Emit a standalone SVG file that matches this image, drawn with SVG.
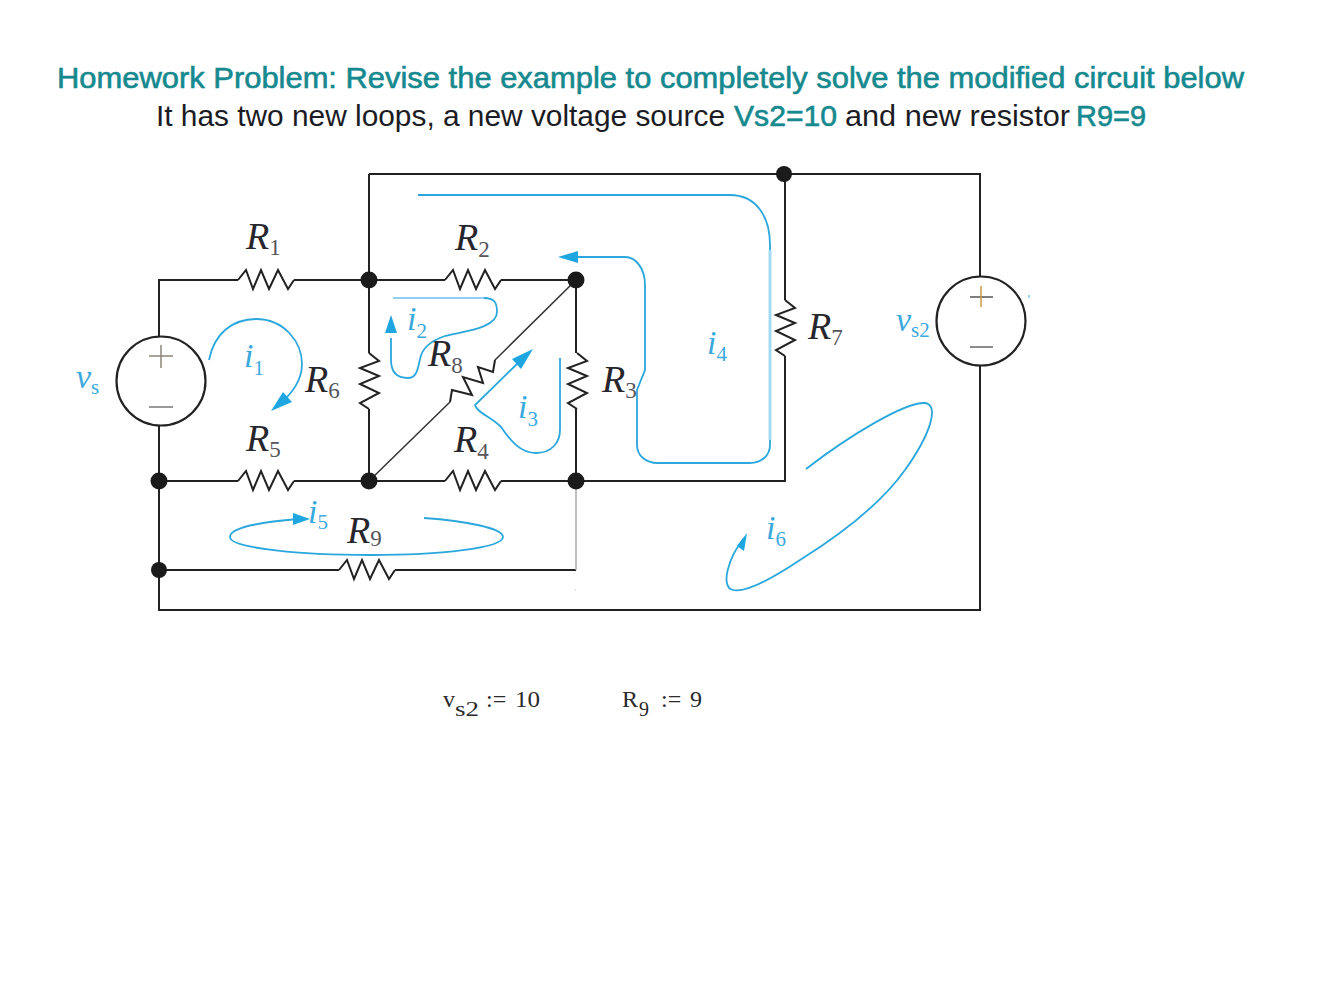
<svg xmlns="http://www.w3.org/2000/svg" width="1327" height="1005" viewBox="0 0 1327 1005">
<style>
.t{font-family:"Liberation Sans",Arial,sans-serif;font-size:29px}
.teal{fill:#16898f;stroke:#16898f;stroke-width:.6}
.blk{fill:#1c1c24}
.w{fill:none;stroke:#222;stroke-width:2}
.thin{fill:none;stroke:#333;stroke-width:1.500}
.c{fill:none;stroke:#2aa7dc;stroke-width:1.800}
.a{fill:#1ea6e0}
.n{fill:#1b1b1b}
.r{font-family:"Liberation Serif",serif;font-style:italic;font-size:38px;fill:#26262c}
.s{font-family:"Liberation Serif",serif;font-style:normal;font-size:23px;fill:#55555c}
.iv{font-family:"Liberation Serif",serif;font-style:italic;font-size:34px;fill:#3aa9de}
.is{font-family:"Liberation Serif",serif;font-style:normal;font-size:21px;fill:#3aa9de}
.m{font-family:"Liberation Serif",serif;font-size:24px;fill:#2a2a2a}
.ms{font-family:"Liberation Serif",serif;font-size:20px;fill:#2a2a2a}
</style>
<defs>
<path id="res" class="w" d="M0 0L8-10 15 9 23-10 31 9 40-10 50 9 56 0"/>
</defs>
<rect width="1327" height="1005" fill="#fff"/>
<g id="title">
<text class="t teal" x="57" y="88" textLength="1187" lengthAdjust="spacingAndGlyphs">Homework Problem: Revise the example to completely solve the modified circuit below</text>
<text class="t blk" x="156" y="126" textLength="569" lengthAdjust="spacingAndGlyphs">It has two new loops, a new voltage source</text>
<text class="t teal" x="734" y="126" textLength="103" lengthAdjust="spacingAndGlyphs">Vs2=10</text>
<text class="t blk" x="845" y="126" textLength="225" lengthAdjust="spacingAndGlyphs">and new resistor</text>
<text class="t teal" x="1076" y="126" textLength="70" lengthAdjust="spacingAndGlyphs">R9=9</text>
</g>
<g id="connectors">
<path class="w" d="M369 174H980V278M980 366V610H159V426M159 337V280H238M294 280H445M501 280H576V353M576 409V481"/>
<path class="w" d="M369 174V353M369 409V481M159 481H238M294 481H445M501 481H785V356M785 300V174M159 481V570M159 570H339M395 570H576"/>
<path class="thin" d="M369 481L450 402M495 360L576 280"/>
<path d="M576 481V570" fill="none" stroke="#aaa" stroke-width="1.500"/>
<path d="M575 590h1" stroke="#ccc" stroke-width="1.500"/>
</g>
<g id="R1"><use href="#res" x="238" y="280"/><text class="r" x="246" y="249">R<tspan class="s" dy="6">1</tspan></text></g>
<g id="R2"><use href="#res" x="445" y="280"/><text class="r" x="455" y="250">R<tspan class="s" dy="7">2</tspan></text></g>
<g id="R5"><use href="#res" x="238" y="481"/><text class="r" x="246" y="451">R<tspan class="s" dy="6">5</tspan></text></g>
<g id="R4"><use href="#res" x="445" y="481"/><text class="r" x="454" y="452">R<tspan class="s" dy="7">4</tspan></text></g>
<g id="R9"><use href="#res" x="339" y="570"/><text class="r" x="347" y="543">R<tspan class="s" dy="3">9</tspan></text></g>
<g id="R6"><use href="#res" transform="translate(369 353) rotate(90)"/><text class="r" x="305" y="392">R<tspan class="s" dy="6">6</tspan></text></g>
<g id="R3"><use href="#res" transform="translate(577 353) rotate(90)"/><text class="r" x="602" y="392">R<tspan class="s" dy="6">3</tspan></text></g>
<g id="R7"><use href="#res" transform="translate(785 300) rotate(90)"/><text class="r" x="808" y="339">R<tspan class="s" dy="6">7</tspan></text></g>
<g id="R8"><path class="w" d="M495 360L493 372 478 367 483 383 463 377 472 395 452 390 450 402"/><text class="r" x="428" y="366">R<tspan class="s" dy="7">8</tspan></text></g>
<g id="Vs"><circle cx="161" cy="381" r="44.500" fill="#fff" stroke="#222" stroke-width="2.200"/><path d="M149 356H173M161 345V368" stroke="#8c8678" stroke-width="1.500" fill="none"/><path d="M149 407H173" stroke="#777" stroke-width="1.500"/><text class="iv" x="76" y="388">v<tspan class="is" font-style="italic" dy="6">s</tspan></text></g>
<g id="Vs2"><text class="iv" x="896" y="331">v<tspan class="is" font-style="italic" font-size="25" dy="6">s2</tspan></text><circle cx="981" cy="321" r="44.500" fill="#fff" stroke="#222" stroke-width="2.200"/><path d="M970 297H993" stroke="#555" stroke-width="1.500"/><path d="M981 286V307" stroke="#c99a40" stroke-width="1.500"/><path d="M970 347H993" stroke="#666" stroke-width="1.500"/><path d="M1029 295v3" stroke="#3aa9de"/></g>
<g id="nodes">
<circle class="n" cx="369" cy="280" r="8.500"/><circle class="n" cx="576" cy="280" r="8.500"/><circle class="n" cx="784" cy="174" r="8"/>
<circle class="n" cx="159" cy="481" r="8.500"/><circle class="n" cx="369" cy="481" r="8.500"/><circle class="n" cx="576" cy="481" r="8.500"/><circle class="n" cx="159" cy="570" r="8"/>
</g>
<g id="i1"><path class="c" d="M209 360C214 334 232 319 256 319C284 319 302 342 302 364C302 380 292 394 280 403"/><path class="a" d="M271 411L283 392 292 402Z"/><text class="iv" x="244" y="367" font-size="30">i<tspan class="is" dy="8">1</tspan></text></g>
<g id="i2"><path class="c" d="M391 338V360C391 373 398 378 408 378C417 378 418 368 420 359C422 348 430 341 445 336C465 331 497 328 497 312C497 302 494 298 484 298H393"/><path d="M393 298H484" stroke="#8fd0f0" stroke-width="2"/><path class="a" d="M391 315L397 333H385Z"/><text class="iv" x="407" y="330" font-size="30">i<tspan class="is" dy="8">2</tspan></text></g>
<g id="i3"><path class="c" d="M520 361L475 405C477 413 490 416 501 427C510 440 520 453 536 453C552 453 560 442 560 430V358"/><path class="a" d="M533 349L521 369 512 359Z"/><text class="iv" x="518" y="418" font-size="32">i<tspan class="is" dy="8">3</tspan></text></g>
<g id="i4"><path class="c" d="M575 257H625C637 257 645 270 645 285V370L637 390V445C637 455 645 463 658 463H750C762 463 770 455 770 445V245C770 215 755 195 730 195H418"/><path d="M770 250V440" stroke="#a5d8f2" stroke-width="3" fill="none"/><path class="a" d="M558 257L578 251V263Z"/><text class="iv" x="707" y="354">i<tspan class="is" dy="7">4</tspan></text></g>
<g id="i5"><path class="c" d="M298 519C260 522 230 528 230 537C230 548 300 555 370 555C440 555 503 548 503 537C503 528 465 521 424 518"/><path class="a" d="M310 519L293 525V513Z"/><text class="iv" x="308" y="523">i<tspan class="is" dy="6">5</tspan></text></g>
<g id="i6"><path class="c" d="M806 469C850 435 905 402 925 403C940 405 930 435 905 470C880 505 840 535 800 560C770 580 745 593 733 590C720 587 728 558 744 538"/><path class="a" d="M747 533L744 551 737 546Z"/><text class="iv" x="766" y="539" font-size="32">i<tspan class="is" dy="7">6</tspan></text></g>
<g id="equations">
<text class="m" x="443" y="707">v</text><text class="ms" x="455" y="716" textLength="24" lengthAdjust="spacingAndGlyphs">s2</text><text class="m" x="486" y="707">:=</text><text class="m" x="515" y="707" textLength="25" lengthAdjust="spacingAndGlyphs">10</text>
<text class="m" x="622" y="707">R</text><text class="ms" x="639" y="716">9</text><text class="m" x="661" y="707">:=</text><text class="m" x="690" y="707">9</text>
</g>
</svg>
